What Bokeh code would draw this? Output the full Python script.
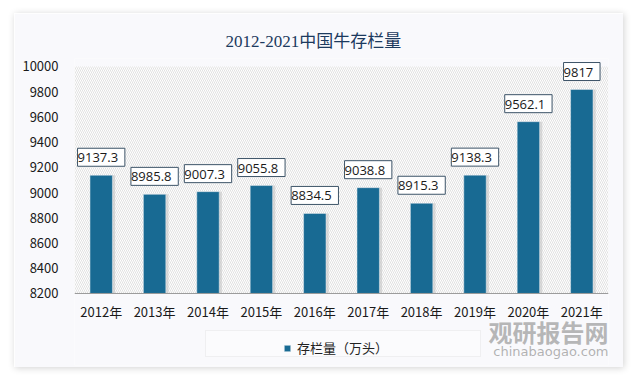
from bokeh.plotting import figure
from bokeh.models import (ColumnDataSource, LabelSet, Label, BoxAnnotation, Legend,
                          LegendItem, FactorRange, Range1d, FixedTicker, Span)
from bokeh.transform import dodge
from bokeh.core.properties import value
from bokeh.embed import file_html
from bokeh.resources import INLINE

# ---- data ----
years = ["2012年", "2013年", "2014年", "2015年", "2016年",
         "2017年", "2018年", "2019年", "2020年", "2021年"]
stock = [9137.3, 8985.8, 9007.3, 9055.8, 8834.5,
         9038.8, 8915.3, 9138.3, 9562.1, 9817]
Y_MIN, Y_MAX, Y_STEP = 8200, 10000, 200
y_ticks = list(range(Y_MIN, Y_MAX + 1, Y_STEP))
title_text = "2012-2021中国牛存栏量"
series_name = "存栏量（万头）"
wm_cn = "观研报告网"
wm_en = "chinabaogao.com"

# visible window of the value axis (room for the legend strip below the bars)
AXIS_LO, AXIS_HI = 7629, 10063

stock_labels = [f" {v:g} " for v in stock]

src = ColumnDataSource(dict(year=years, stock=stock, label=stock_labels,
                            base=[Y_MIN] * len(years)))

CJK = "'Noto Sans CJK SC'"
CARD = "#f9f9fc"

p = figure(x_range=FactorRange(*years), y_range=Range1d(AXIS_LO, AXIS_HI),
           width=609, height=354, margin=(13, 0, 0, 14),
           output_backend="svg", toolbar_location=None,
           min_border_left=60, min_border_right=15,
           min_border_top=45, min_border_bottom=2,
           border_fill_color=CARD, background_fill_color=CARD,
           outline_line_color=None)
p.styles = {"box-shadow": "1px 1px 7px rgba(0,0,0,0.18)"}

# title
p.title.text = title_text
p.title.align = "left"
p.title.offset = 151
p.title.standoff = 16
p.title.text_font = "'Liberation Serif', 'Noto Sans CJK SC'"
p.title.text_font_size = "17px"
p.title.text_font_style = "normal"
p.title.text_color = "#1c3a5e"

# hatched plot background (value area only)
p.add_layout(BoxAnnotation(bottom=Y_MIN, top=Y_MAX,
                           fill_color="#ffffff", fill_alpha=1, line_alpha=0,
                           hatch_pattern="\\", hatch_color="#d9d9d9",
                           hatch_scale=4, hatch_weight=0.8, level="underlay"))

# bar shadow
p.vbar(x=dodge("year", 0.05, range=p.x_range), top="stock", bottom="base",
       width=0.42, source=src, fill_color="#c4c4c4", fill_alpha=0.6,
       line_color=None)
bars = p.vbar(x="year", top="stock", bottom="base", width=0.42, source=src,
              fill_color="#186a93", line_color="#e8eef2", line_width=0.5)

labels = LabelSet(x="year", y="stock", text="label", source=src,
                  text_align="center", text_baseline="bottom", y_offset=9,
                  text_font=value("Open Sans"), text_font_size="13px",
                  text_color="#1a1a1a", background_fill_color="#ffffff",
                  border_line_color="#3d5468", border_line_width=1)
p.add_layout(labels)

# y axis
p.yaxis.ticker = FixedTicker(ticks=y_ticks)
p.yaxis.axis_line_color = None
p.yaxis.major_tick_line_color = None
p.yaxis.minor_tick_line_color = None
p.yaxis.major_label_text_font = CJK
p.yaxis.major_label_text_font_size = "13px"
p.yaxis.major_label_text_color = "#1a1a1a"
p.yaxis.major_label_standoff = 10
p.xgrid.grid_line_color = None
p.ygrid.grid_line_color = None

# category axis drawn at the base value
p.xaxis.visible = False
p.add_layout(Span(location=Y_MIN, dimension="width", line_color="#9a9a9a",
                  line_width=1))
p.add_layout(LabelSet(x="year", y="base", text="year", source=src,
                      text_align="center", text_baseline="top", y_offset=-9,
                      text_font=value("Noto Sans CJK SC"), text_font_size="13px",
                      text_color="#1a1a1a"))

# legend box
p.add_layout(BoxAnnotation(left=191, right=466, top=317, bottom=343,
                           left_units="canvas", right_units="canvas",
                           top_units="canvas", bottom_units="canvas",
                           fill_color="#ffffff", line_color="#d8d8d8",
                           line_width=1))

legend = Legend(items=[LegendItem(label=series_name, renderers=[bars])],
                location=(209, 8), orientation="horizontal",
                border_line_color=None, background_fill_alpha=0,
                glyph_width=8, glyph_height=8, label_standoff=6,
                label_text_font=CJK, label_text_font_size="13px",
                label_text_color="#222222", margin=0, padding=4)
p.add_layout(legend)

# watermark
p.add_layout(Label(x=594, y=318, x_units="canvas", y_units="canvas",
                   text=wm_cn, text_align="right", text_baseline="middle",
                   text_font=CJK, text_font_style="bold", text_font_size="24px",
                   text_color="#a0a0a0", text_alpha=0.75))
p.add_layout(Label(x=594, y=338, x_units="canvas", y_units="canvas",
                   text=wm_en, text_align="right", text_baseline="middle",
                   text_font="DejaVu Sans", text_font_size="13px",
                   text_color="#9a9a9a", text_alpha=0.75))

open("out.html", "w").write(file_html(p, INLINE))
